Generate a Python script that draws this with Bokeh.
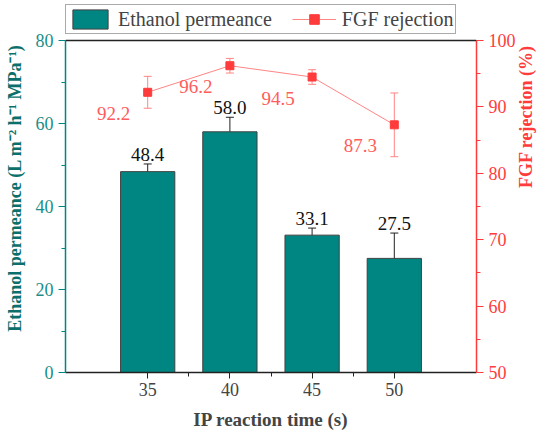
import math
import numpy as np
from bokeh.plotting import figure
from bokeh.models import (Range1d, LinearAxis, FixedTicker, SingleIntervalTicker,
                          ColumnDataSource, Whisker, TeeHead, Legend, LegendItem, Span)
from bokeh.core.properties import value
from bokeh.embed import file_html
from bokeh.resources import INLINE

# ---- data ----
times = [35, 40, 45, 50]
permeance = [48.4, 58.0, 33.1, 27.5]
permeance_err = [1.85, 3.5, 1.7, 6.1]
rejection = [92.2, 96.2, 94.5, 87.3]
rejection_err = [2.4, 1.1, 1.1, 4.8]
perm_labels = ["48.4", "58.0", "33.1", "27.5"]
rej_labels = ["92.2", "96.2", "94.5", "87.3"]
x_ticks = [35, 40, 45, 50]
x_minor = [37.5, 42.5, 47.5]
left_lim = (0, 80)
right_lim = (50, 100)

TEAL = "#008682"
TEAL_TXT = "#1b8e8a"
TEAL_LBL = "#0b6f6b"
RED = "#ff3b3b"
RED_LIGHT = "#ff8585"
RED_TXT = "#ff5c5c"
FONT = "Liberation Serif"

# layout: axes span 332 px; the frame extends EXTRA px above them to hold the legend
W, H = 548, 438
TOP, BOTTOM, LEFT, RIGHT = 3, 66, 65, 72
AXIS_PX = 332
EXTRA = (H - TOP - BOTTOM) - AXIS_PX
left_top = left_lim[1] + EXTRA * (left_lim[1] - left_lim[0]) / AXIS_PX
right_top = right_lim[1] + EXTRA * (right_lim[1] - right_lim[0]) / AXIS_PX

p = figure(width=W, height=H, output_backend="svg", toolbar_location=None,
           x_range=Range1d(30, 55), y_range=Range1d(left_lim[0], left_top),
           min_border_left=LEFT, min_border_right=RIGHT, min_border_top=TOP,
           min_border_bottom=BOTTOM)
p.extra_y_ranges = {"r": Range1d(right_lim[0], right_top)}
p.grid.visible = False
p.outline_line_color = None
p.background_fill_color = "white"
p.border_fill_color = "white"

# top border of the plot box
p.add_layout(Span(location=left_lim[1], dimension="width", line_color="#222222",
                  line_width=1.5))

# x axis
xa = p.xaxis[0]
xa.ticker = FixedTicker(ticks=x_ticks, minor_ticks=x_minor)
xa.axis_label = "IP reaction time (s)"
xa.axis_label_text_font = FONT
xa.axis_label_text_font_style = "bold"
xa.axis_label_text_font_size = "19px"
xa.axis_label_standoff = 10
xa.major_label_text_font = FONT
xa.major_label_text_font_size = "18px"
xa.major_label_standoff = 4
xa.axis_line_color = "#222222"
xa.axis_line_width = 1.5
xa.major_tick_in = 0
xa.major_tick_out = 6
xa.minor_tick_in = 0
xa.minor_tick_out = 4
xa.major_tick_line_color = "#222222"
xa.minor_tick_line_color = "#222222"

# left axis
ya = p.yaxis[0]
ya.bounds = left_lim
ya.ticker = SingleIntervalTicker(interval=20, num_minor_ticks=2)
ya.axis_label = "Ethanol permeance (L m\u207b\u00b2 h\u207b\u00b9 MPa\u207b\u00b9)"
ya.axis_label_text_font = FONT
ya.axis_label_text_font_style = "bold"
ya.axis_label_text_font_size = "18px"
ya.axis_label_text_color = TEAL_LBL
ya.axis_label_standoff = 8
ya.major_label_text_font = FONT
ya.major_label_text_font_size = "18px"
ya.major_label_text_color = TEAL_TXT
ya.major_label_standoff = 5
ya.axis_line_color = TEAL
ya.axis_line_width = 1.5
ya.major_tick_line_color = TEAL
ya.minor_tick_line_color = TEAL
ya.major_tick_in = 0
ya.major_tick_out = 7
ya.minor_tick_in = 0
ya.minor_tick_out = 4

# right axis
ra = LinearAxis(y_range_name="r", bounds=right_lim)
ra.ticker = SingleIntervalTicker(interval=10, num_minor_ticks=2)
ra.axis_label = "FGF rejection (%)"
ra.axis_label_orientation = math.pi / 2
ra.axis_label_text_font = FONT
ra.axis_label_text_font_style = "bold"
ra.axis_label_text_font_size = "18px"
ra.axis_label_text_color = RED
ra.axis_label_standoff = 7
ra.major_label_text_font = FONT
ra.major_label_text_font_size = "18px"
ra.major_label_text_color = RED
ra.major_label_standoff = 5
ra.axis_line_color = RED
ra.axis_line_width = 1.5
ra.major_tick_line_color = RED
ra.minor_tick_line_color = RED
ra.major_tick_in = 0
ra.major_tick_out = 7
ra.minor_tick_in = 0
ra.minor_tick_out = 4
p.add_layout(ra, "right")

# bars
perm = np.array(permeance)
perr = np.array(permeance_err)
src_b = ColumnDataSource(dict(x=times, top=permeance, upper=perm + perr, lower=perm - perr,
                              label=perm_labels))
bars = p.vbar(x="x", top="top", width=3.3, bottom=0, source=src_b,
              fill_color=TEAL, line_color="#404040", line_width=1)
p.add_layout(Whisker(source=src_b, base="x", upper="upper", lower="lower",
                     line_color="#222222", line_width=1,
                     upper_head=TeeHead(size=8, line_color="#222222", line_width=1),
                     lower_head=TeeHead(size=8, line_color="#222222", line_width=1)))
p.text(x="x", y="upper", text="label", source=src_b, text_align="center",
       text_baseline="bottom", y_offset=-3, text_font=value(FONT),
       text_font_size="19px", text_color="#111111")

# rejection line
rej = np.array(rejection)
rerr = np.array(rejection_err)
src_r = ColumnDataSource(dict(x=times, y=rejection, upper=rej + rerr, lower=rej - rerr,
                              label=rej_labels))
p.add_layout(Whisker(source=src_r, base="x", upper="upper", lower="lower", y_range_name="r",
                     line_color=RED_LIGHT, line_width=1,
                     upper_head=TeeHead(size=8, line_color=RED_LIGHT, line_width=1),
                     lower_head=TeeHead(size=8, line_color=RED_LIGHT, line_width=1)))
ln = p.line(x="x", y="y", source=src_r, y_range_name="r", line_color=RED_LIGHT, line_width=1)
mk = p.scatter(x="x", y="y", source=src_r, y_range_name="r", marker="square", size=8,
               fill_color=RED, line_color=RED)
p.text(x="x", y="y", text="label", source=src_r, y_range_name="r", text_align="center",
       text_baseline="middle", x_offset=-34, y_offset=21, text_font=value(FONT),
       text_font_size="19px", text_color=RED_TXT)

# legend, inside the extended frame, just above the plot box
legend = Legend(items=[LegendItem(label="Ethanol permeance", renderers=[bars]),
                       LegendItem(label="FGF rejection", renderers=[ln, mk])],
                orientation="horizontal", location=(0, AXIS_PX + 6),
                label_text_font=FONT, label_text_font_size="20px",
                glyph_width=44, glyph_height=24, label_standoff=6, spacing=20,
                padding=2, margin=0, border_line_color="#555555", border_line_width=1,
                background_fill_alpha=1.0)
p.add_layout(legend, "center")

open("out.html", "w").write(file_html(p, INLINE))
